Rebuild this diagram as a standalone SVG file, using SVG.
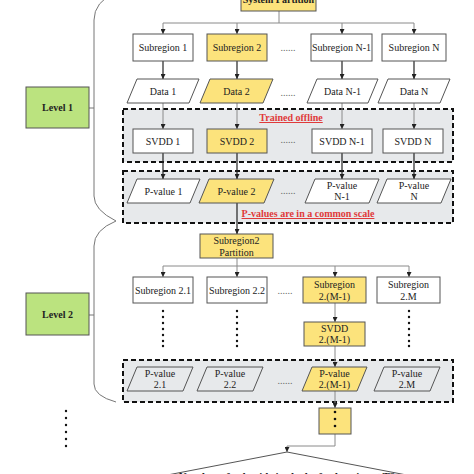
<svg xmlns="http://www.w3.org/2000/svg" width="474" height="474" viewBox="0 0 474 474">
<defs>
<marker id="ah" viewBox="0 0 8 8" refX="8" refY="4" markerWidth="5" markerHeight="5" orient="auto" markerUnits="userSpaceOnUse">
<path d="M0,0 L8,4 L0,8 z" fill="#222"/>
</marker>
</defs>
<style>
text{font-family:"Liberation Serif","Times New Roman",serif;font-size:10px;fill:#222;text-anchor:middle}
.b{font-weight:bold}
.red{fill:#e03a3a;font-weight:bold;text-decoration:underline}
.w{fill:#fff;stroke:#555;stroke-width:1}
.y{fill:#fce37c;stroke:#555;stroke-width:1}
.g{fill:#e7e9eb;stroke:#555;stroke-width:1}
.lv{fill:#bbe37f;stroke:#555;stroke-width:1}
.dash{fill:#e7e9eb;stroke:#111;stroke-width:2;stroke-dasharray:5,3}
.ln{fill:none;stroke:#8a8a8a;stroke-width:1}
.ar{fill:none;stroke:#8a8a8a;stroke-width:1;marker-end:url(#ah)}
.ark{fill:none;stroke:#222;stroke-width:1.2;marker-end:url(#ah)}
.br{fill:none;stroke:#777;stroke-width:1}
.dot{fill:#111}
.ell{fill:#666}
</style>
<rect width="474" height="474" fill="#fff"/>

<g id="braces">
<path class="br" d="M116,-8 Q94,2 94,20 L94,196 Q94,210 116,221"/>
<path class="br" d="M116,221 Q94,230 94,246 L94,384 Q94,396 116,402"/>
<path class="br" d="M89,108 L94,108"/>
<path class="br" d="M89,315 L94,315"/>
</g>

<g id="level1"><rect class="lv" x="26" y="87" width="63" height="41"/><text class="b" x="57.5" y="111">Level 1</text></g>
<g id="level2"><rect class="lv" x="26" y="293" width="63" height="42"/><text class="b" x="57.5" y="317.5">Level 2</text></g>

<g id="box-trained"><rect class="dash" x="123" y="109" width="330" height="53"/><text class="red" x="291" y="121">Trained offline</text></g>
<g id="box-pvalues"><rect class="dash" x="123" y="171" width="330" height="52"/><text class="red" x="308" y="217">P-values are in a common scale</text></g>
<g id="box-pvalues2"><rect class="dash" x="123" y="360" width="330" height="42"/></g>

<g id="connectors">
<path class="ln" d="M279,11 L279,23 M163,23 L414,23"/>
<path class="ar" d="M163,23 L163,34"/>
<path class="ar" d="M237,23 L237,34"/>
<path class="ar" d="M342,23 L342,34"/>
<path class="ar" d="M414,23 L414,34"/>
<path class="ark" d="M163,61 L163,79"/>
<path class="ark" d="M237,61 L237,79"/>
<path class="ark" d="M342,61 L342,79"/>
<path class="ark" d="M414,61 L414,79"/>
<path class="ar" d="M163,103 L163,129"/>
<path class="ar" d="M237,103 L237,129"/>
<path class="ar" d="M342,103 L342,129"/>
<path class="ar" d="M414,103 L414,129"/>
<path class="ark" d="M163,153 L163,179"/>
<path class="ark" d="M237,153 L237,179"/>
<path class="ark" d="M342,153 L342,179"/>
<path class="ark" d="M414,153 L414,179"/>
<path class="ark" d="M237,203 L237,234"/>
<path class="ln" d="M237,258 L237,266 M163,266 L409,266"/>
<path class="ar" d="M163,266 L163,277"/>
<path class="ar" d="M237,266 L237,277"/>
<path class="ar" d="M335,266 L335,277"/>
<path class="ar" d="M409,266 L409,277"/>
<path class="ar" d="M335,303 L335,322"/>
<path class="ar" d="M335,346 L335,367"/>
<path class="ar" d="M335,391 L335,408"/>
<path class="ln" d="M335,434 L335,446 L287,446"/>
<path class="ar" d="M287,446 L287,452"/>
</g>

<g id="system-partition"><rect class="y" x="241" y="-14" width="75" height="25"/><text class="b" x="278.5" y="3">System Partition</text></g>

<g id="subregion1"><rect class="w" x="133" y="34" width="60" height="27"/><text x="163" y="51">Subregion 1</text></g>
<g id="subregion2"><rect class="y" x="207" y="34" width="60" height="27"/><text x="237" y="51">Subregion 2</text></g>
<g id="subregionN-1"><rect class="w" x="311" y="34" width="61" height="27"/><text x="341.5" y="51">Subregion N-1</text></g>
<g id="subregionN"><rect class="w" x="382" y="34" width="64" height="27"/><text x="414" y="51">Subregion N</text></g>
<text class="ell" x="288" y="51">......</text>

<g id="data1"><polygon class="w" points="137,79 199,79 189,103 127,103"/><text x="163" y="94.5">Data 1</text></g>
<g id="data2"><polygon class="y" points="210,79 273,79 263,103 200,103"/><text x="236.5" y="94.5">Data 2</text></g>
<g id="dataN-1"><polygon class="w" points="317,79 378,79 368,103 307,103"/><text x="342.5" y="94.5">Data N-1</text></g>
<g id="dataN"><polygon class="w" points="388,79 450,79 440,103 378,103"/><text x="414" y="94.5">Data N</text></g>
<text class="ell" x="288" y="96">......</text>

<g id="svdd1"><rect class="w" x="133" y="129" width="60" height="24"/><text x="163" y="144.5">SVDD 1</text></g>
<g id="svdd2"><rect class="y" x="207" y="129" width="60" height="24"/><text x="237" y="144.5">SVDD 2</text></g>
<g id="svddN-1"><rect class="w" x="312" y="129" width="60" height="24"/><text x="342" y="144.5">SVDD N-1</text></g>
<g id="svddN"><rect class="w" x="383" y="129" width="60" height="24"/><text x="413" y="144.5">SVDD N</text></g>
<text class="ell" x="288" y="143">......</text>

<g id="pvalue1"><polygon class="w" points="137,179 200,179 190,203 127,203"/><text x="163.5" y="194.5">P-value 1</text></g>
<g id="pvalue2"><polygon class="y" points="209,179 274,179 264,203 199,203"/><text x="236.5" y="194.5">P-value 2</text></g>
<g id="pvalueN-1"><polygon class="w" points="315,179 379,179 369,203 305,203"/><text x="342" y="188.5">P-value</text><text x="342" y="200">N-1</text></g>
<g id="pvalueN"><polygon class="w" points="387,179 451,179 441,203 377,203"/><text x="414" y="188.5">P-value</text><text x="414" y="200">N</text></g>
<text class="ell" x="288" y="194">......</text>

<g id="subregion2-partition"><rect class="y" x="200" y="234" width="73" height="24"/><text x="236.5" y="244">Subregion2</text><text x="236.5" y="255.5">Partition</text></g>

<g id="subregion2.1"><rect class="w" x="133" y="277" width="60" height="26"/><text x="163" y="293.5">Subregion 2.1</text></g>
<g id="subregion2.2"><rect class="w" x="207" y="277" width="60" height="26"/><text x="237" y="293.5">Subregion 2.2</text></g>
<g id="subregion2.M-1"><rect class="y" x="303" y="277" width="63" height="26"/><text x="334.5" y="288">Subregion</text><text x="334.5" y="300">2.(M-1)</text></g>
<g id="subregion2.M"><rect class="w" x="377" y="277" width="63" height="26"/><text x="408.5" y="288">Subregion</text><text x="408.5" y="300">2.M</text></g>
<text class="ell" x="285" y="294">......</text>

<g id="dots-cols">
<circle class="dot" cx="163" cy="311" r="1.2"/><circle class="dot" cx="163" cy="317" r="1.2"/><circle class="dot" cx="163" cy="323" r="1.2"/><circle class="dot" cx="163" cy="329" r="1.2"/><circle class="dot" cx="163" cy="335" r="1.2"/><circle class="dot" cx="163" cy="341" r="1.2"/><circle class="dot" cx="163" cy="346" r="1.2"/>
<circle class="dot" cx="237" cy="311" r="1.2"/><circle class="dot" cx="237" cy="317" r="1.2"/><circle class="dot" cx="237" cy="323" r="1.2"/><circle class="dot" cx="237" cy="329" r="1.2"/><circle class="dot" cx="237" cy="335" r="1.2"/><circle class="dot" cx="237" cy="341" r="1.2"/><circle class="dot" cx="237" cy="346" r="1.2"/>
<circle class="dot" cx="409" cy="311" r="1.2"/><circle class="dot" cx="409" cy="317" r="1.2"/><circle class="dot" cx="409" cy="323" r="1.2"/><circle class="dot" cx="409" cy="329" r="1.2"/><circle class="dot" cx="409" cy="335" r="1.2"/><circle class="dot" cx="409" cy="341" r="1.2"/><circle class="dot" cx="409" cy="346" r="1.2"/>
</g>

<g id="svdd2.M-1"><rect class="y" x="304" y="322" width="61" height="24"/><text x="334.5" y="331.5">SVDD</text><text x="334.5" y="343">2.(M-1)</text></g>

<g id="pvalue2.1"><polygon class="g" points="137,367 193,367 183,391 127,391"/><text x="160" y="376.5">P-value</text><text x="160" y="388">2.1</text></g>
<g id="pvalue2.2"><polygon class="g" points="207,367 263,367 253,391 197,391"/><text x="230" y="376.5">P-value</text><text x="230" y="388">2.2</text></g>
<g id="pvalue2.M-1"><polygon class="y" points="312,367 367,367 357,391 302,391"/><text x="334.5" y="376.5">P-value</text><text x="334.5" y="388">2.(M-1)</text></g>
<g id="pvalue2.M"><polygon class="g" points="384,367 440,367 430,391 374,391"/><text x="407" y="376.5">P-value</text><text x="407" y="388">2.M</text></g>
<text class="ell" x="285" y="384">......</text>

<g id="more-box"><rect class="y" x="319" y="408" width="32" height="26"/>
<circle class="dot" cx="335" cy="412" r="1.3"/><circle class="dot" cx="335" cy="419" r="1.3"/><circle class="dot" cx="335" cy="426" r="1.3"/></g>

<g id="dots-left">
<circle class="dot" cx="66" cy="411" r="1.2"/><circle class="dot" cx="66" cy="418" r="1.2"/><circle class="dot" cx="66" cy="425" r="1.2"/><circle class="dot" cx="66" cy="432" r="1.2"/><circle class="dot" cx="66" cy="439" r="1.2"/><circle class="dot" cx="66" cy="446" r="1.2"/>
</g>

<g id="decision"><polygon fill="#fff" stroke="#555" stroke-width="1" points="287,452 157,477 287,502 417,477"/>
<text class="b" x="287" y="480" style="font-size:11px">Number of subgrids in the leaf subregion &lt; T?</text></g>
</svg>
